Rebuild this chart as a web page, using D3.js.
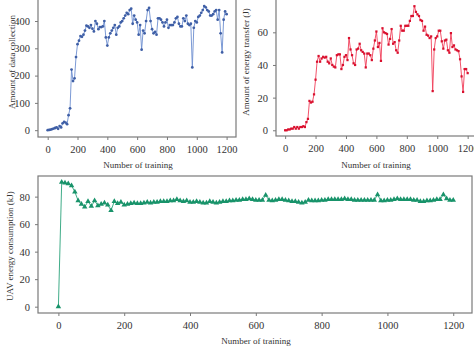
<!DOCTYPE html>
<html>
<head>
<meta charset="utf-8">
<script src="https://cdn.jsdelivr.net/npm/d3@7"></script>
<style>
  html, body { margin: 0; padding: 0; background: #fff; }
  svg { display: block; }
  text { font-family: "Liberation Serif", "DejaVu Serif", serif; fill: #333; }
</style>
</head>
<body>
<svg id="chart" width="474" height="348"></svg>
<script>
// Training iterations, sampled every 10 steps
const iterations = d3.range(0, 1201, 10);

// Amount of data collection per iteration
const dataCollection = [
  0, 1, 2, 4, 6, 8, 10, 5, 15, 10, 25, 30, 28, 22, 55, 80, 222, 180, 190, 268,
  315, 328, 345, 342, 350, 365, 383, 380, 375, 385, 372, 362, 400, 390, 370, 378, 378, 380, 400, 340,
  310, 340, 355, 365, 375, 385, 350, 375, 380, 395, 400, 410, 420, 430, 425, 440, 445, 390, 420, 405,
  395, 350, 385, 295, 365, 355, 400, 440, 448, 400, 370, 355, 360, 350, 410, 410, 405, 395, 380, 395,
  405, 375, 385, 385, 385, 395, 410, 415, 390, 380, 380, 410, 400, 420, 390, 385, 390, 230, 375, 400,
  395, 415, 420, 430, 440, 455, 450, 440, 435, 420, 420, 425, 435, 440, 405, 440, 355, 285, 405, 435,
  425
];

// Amount of energy transfer (J) per iteration
const energyTransfer = [
  0, 0, 0.5, 0.5, 1, 1, 2, 1, 2, 1, 2, 2, 2.5, 2, 5, 7, 18, 17, 17.5, 22,
  31, 42, 45.5, 42, 44, 45, 44.5, 45, 42, 41, 44, 40, 39, 38.5, 46, 46.5, 46.5, 37.5, 40, 45,
  46, 43, 56.5, 49.5, 46, 41, 40, 49.5, 50, 53, 49, 48, 47, 38.5, 47, 47, 46, 43, 50, 55,
  60.5, 51, 53.5, 42.5, 62.5, 60, 59.5, 59, 52.5, 56, 62, 53, 54, 49, 47.5, 55, 64, 61, 61, 64,
  64, 64, 67, 70, 70, 76, 72.5, 71, 70, 67.5, 67, 61, 63.5, 58.5, 58, 56.5, 57.5, 24, 49.5, 56.5,
  57.5, 61, 61, 54.5, 50, 55, 55.5, 49, 47.5, 59.5, 51, 52, 49.5, 49, 48.5, 43.5, 33, 23.5, 37.5, 37.5,
  35
];

// UAV energy consumption (kJ) per iteration
const uavEnergy = [
  0, 90.5, 90, 89.5, 88, 83.5, 77, 74.5, 72.5, 76.5, 73, 77, 73.5, 74.5, 75.5, 74, 70, 76.5, 75, 76,
  74, 74.5, 75, 75.5, 75, 75, 75.5, 76, 75.5, 76, 76, 76.5, 76.5, 76.5, 77, 77, 78, 77, 76.5, 77,
  76, 76, 76.5, 76, 75.5, 75.5, 76.5, 76, 75.5, 76, 76.5, 76.5, 77, 77, 77.5, 77.5, 78, 78, 78.5, 78,
  77.5, 77.5, 77.5, 81, 77.5, 77, 77.5, 78, 78, 77.5, 77, 76.5, 76.5, 76, 75.5, 76, 77.5, 77, 77, 77,
  77.5, 77.5, 78, 78, 78, 78, 78, 78.5, 78, 78, 77.5, 77.5, 77.5, 77.5, 77.5, 77.5, 77.5, 81.5, 77, 77,
  77.5, 77.5, 78, 78.5, 78, 78, 78, 78, 77.5, 77.5, 76.5, 76.5, 77, 77, 77.5, 78, 78, 81.5, 78.5, 77.5,
  77.5
];

const xTicks = [0, 200, 400, 600, 800, 1000, 1200];
const yTicksData = [0, 100, 200, 300, 400];
const yTicksEnergy = [0, 20, 40, 60];
const yTicksUav = [0, 20, 40, 60, 80];

const svg = d3.select("#chart");
const frameColor = "#7a7a7a";

function drawPanel(cfg) {
  const g = svg.append("g");
  const x = d3.scaleLinear().domain(cfg.xDomain).range([cfg.left, cfg.right]);
  const y = d3.scaleLinear().domain(cfg.yDomain).range([cfg.bottom, cfg.top]);

  // plot frame
  g.append("rect")
    .attr("x", cfg.left).attr("y", cfg.top)
    .attr("width", cfg.right - cfg.left).attr("height", cfg.bottom - cfg.top)
    .attr("fill", "none").attr("stroke", frameColor).attr("stroke-width", 1.2);

  const xAxis = g.append("g")
    .attr("transform", `translate(0,${cfg.bottom})`)
    .call(d3.axisBottom(x).tickValues(xTicks).tickSize(3).tickPadding(6).tickFormat(d3.format("d")));
  const yAxis = g.append("g")
    .attr("transform", `translate(${cfg.left},0)`)
    .call(d3.axisLeft(y).tickValues(cfg.yTicks).tickSize(3).tickPadding(5).tickFormat(d3.format("d")));
  [xAxis, yAxis].forEach(a => {
    a.select(".domain").remove();
    a.selectAll(".tick line").attr("stroke", frameColor);
    a.selectAll(".tick text").style("font-family", '"Liberation Serif", serif')
      .style("font-size", "10.5px").attr("fill", "#333");
  });

  const pts = iterations.map((it, i) => [it, cfg.values[i]]);
  g.append("path")
    .datum(pts)
    .attr("fill", "none")
    .attr("stroke", cfg.lineColor)
    .attr("stroke-width", 0.9)
    .attr("d", d3.line().x(d => x(d[0])).y(d => y(d[1])));

  const sym = d3.symbol().type(cfg.symbol).size(cfg.symbolSize);
  g.append("g").selectAll("path")
    .data(pts)
    .join("path")
    .attr("transform", d => `translate(${x(d[0])},${y(d[1])})`)
    .attr("d", sym)
    .attr("fill", cfg.markColor);

  // axis titles
  g.append("text")
    .attr("x", cfg.xTitlePos[0]).attr("y", cfg.xTitlePos[1])
    .attr("text-anchor", "middle").style("font-size", "9px")
    .text("Number of training");
  g.append("text")
    .attr("transform", `translate(${cfg.yTitlePos[0]},${cfg.yTitlePos[1]}) rotate(-90)`)
    .attr("text-anchor", "middle").style("font-size", "9px")
    .text(cfg.yTitle);
}

drawPanel({
  values: dataCollection,
  left: 38, right: 236, top: -4, bottom: 137,
  xDomain: [-65, 1263], yDomain: [-25, 477 + 4 / 0.2725],
  yTicks: yTicksData,
  lineColor: "#6d8fd0", markColor: "#3f5fa6",
  symbol: d3.symbolCircle, symbolSize: 6,
  yTitle: "Amount of data collection",
  xTitlePos: [138, 168], yTitlePos: [15, 62]
});

drawPanel({
  values: energyTransfer,
  left: 276, right: 478, top: -4, bottom: 136,
  xDomain: [-60, 1268], yDomain: [-3.5, 79.8 + 4 / 1.633],
  yTicks: yTicksEnergy,
  lineColor: "#f0405a", markColor: "#d9102e",
  symbol: d3.symbolSquare, symbolSize: 5,
  yTitle: "Amount of energy transfer (J)",
  xTitlePos: [376, 168], yTitlePos: [249, 62]
});

drawPanel({
  values: uavEnergy,
  left: 38, right: 472, top: 176, bottom: 313,
  xDomain: [-62, 1257], yDomain: [-4.6, 95],
  yTicks: yTicksUav,
  lineColor: "#2aa37a", markColor: "#18936a",
  symbol: d3.symbolTriangle, symbolSize: 13,
  yTitle: "UAV energy consumption (kJ)",
  xTitlePos: [256, 344], yTitlePos: [13, 246]
});
</script>
</body>
</html>
